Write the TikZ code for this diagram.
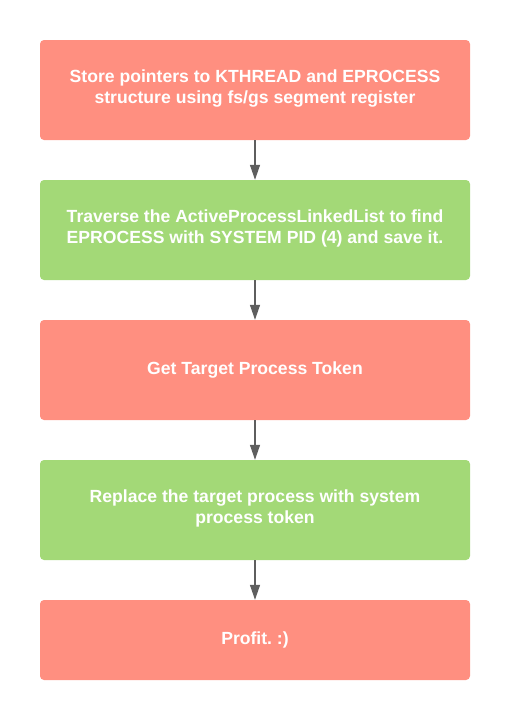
\documentclass[tikz,border=0pt]{standalone}
\usepackage{fontspec}
\setmainfont{Liberation Sans}
\usetikzlibrary{arrows.meta}
\definecolor{boxred}{HTML}{FF8F80}
\definecolor{boxgreen}{HTML}{A3D977}
\definecolor{arrowgray}{HTML}{5E5E5E}
\frenchspacing
\begin{document}
\begin{tikzpicture}[x=1pt,y=-1pt,
  stepbox/.style={rounded corners=4pt, minimum width=430pt, inner sep=0pt},
  redbox/.style={stepbox, fill=boxred},
  greenbox/.style={stepbox, fill=boxgreen},
  steptext/.style={text=white, inner sep=0pt, font=\fontsize{17.6}{21}\selectfont\bfseries\frenchspacing, align=center},
  conn/.style={draw=arrowgray, line width=1.3pt, -{Triangle[length=15pt,width=10pt]}}]
\useasboundingbox (0,0) rectangle (510,720);
\node[redbox, minimum height=100pt] (s1) at (255,90) {};
\node[greenbox, minimum height=100pt] (s2) at (255,230) {};
\node[redbox, minimum height=100pt] (s3) at (255,370) {};
\node[greenbox, minimum height=100pt] (s4) at (255,510) {};
\node[redbox, minimum height=80pt] (s5) at (255,640) {};
\node[steptext] (t1) at ([yshift=2pt]s1.center) {Store pointers to KTHREAD and EPROCESS\\structure using fs/gs segment register};
\node[steptext] (t2) at ([yshift=2pt]s2.center) {Traverse the ActiveProcessLinkedList to find\\EPROCESS with SYSTEM PID (4) and save it.};
\node[steptext] (t3) at (s3.center) {Get Target Process Token};
\node[steptext] (t4) at ([yshift=2pt]s4.center) {Replace the target process with system\\process token};
\node[steptext] (t5) at (s5.center) {Profit. :)};
\draw[conn] (s1) -- (s2);
\draw[conn] (s2) -- (s3);
\draw[conn] (s3) -- (s4);
\draw[conn] (s4) -- (s5);
\end{tikzpicture}
\end{document}
